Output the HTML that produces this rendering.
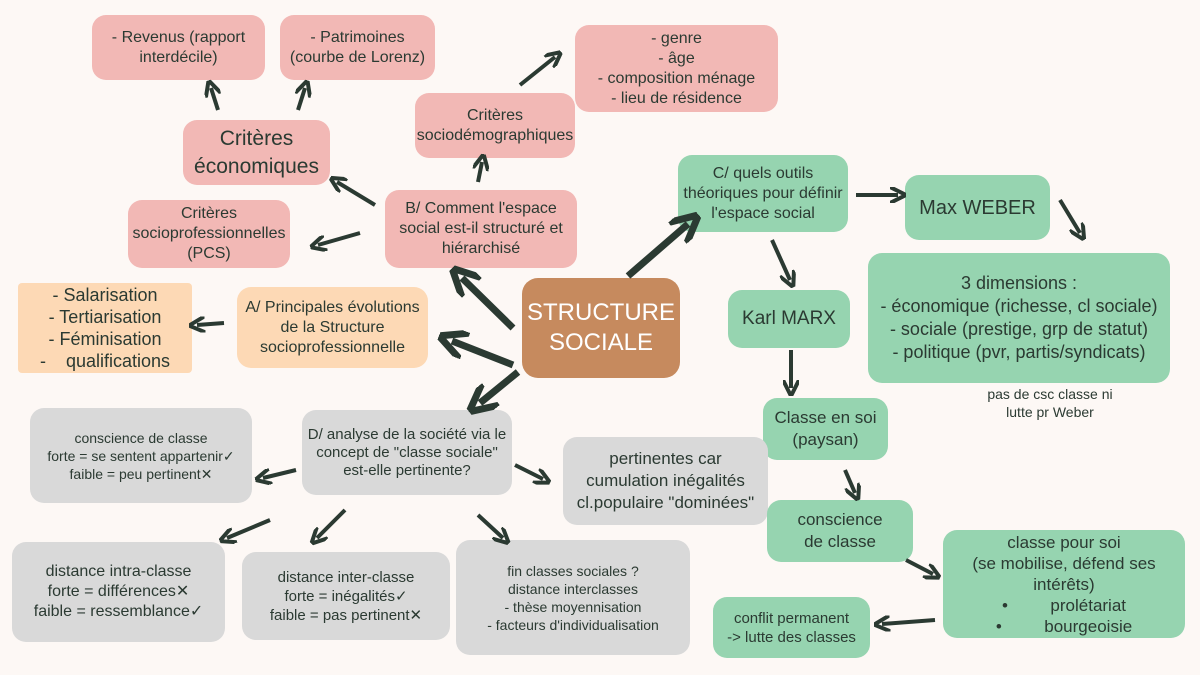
<!DOCTYPE html>
<html><head><meta charset="utf-8"><style>
body{margin:0;width:1200px;height:675px;background:#fdf8f5;position:relative;overflow:hidden;font-family:"Liberation Sans",sans-serif;color:#2b3a32}
.b{position:absolute;border-radius:14px;display:flex;align-items:center;justify-content:center;text-align:center;font-size:16px;line-height:20px;box-sizing:border-box;padding:4px}
.p{background:#f2b8b5}.g{background:#96d4b0}.y{background:#d9d9d9}.o{background:#fdd9b5}
svg{position:absolute;left:0;top:0}
</style></head><body>
<div class="b p" style="left:92px;top:15px;width:173px;height:65px">- Revenus (rapport<br>interdécile)</div>
<div class="b p" style="left:280px;top:15px;width:155px;height:65px">- Patrimoines<br>(courbe de Lorenz)</div>
<div class="b p" style="left:575px;top:25px;width:203px;height:87px">- genre<br>- âge<br>- composition ménage<br>- lieu de résidence</div>
<div class="b p" style="left:415px;top:93px;width:160px;height:65px">Critères<br>sociodémographiques</div>
<div class="b p" style="left:183px;top:120px;width:147px;height:65px;font-size:21px;line-height:28px">Critères<br>économiques</div>
<div class="b p" style="left:385px;top:190px;width:192px;height:78px">B/ Comment l'espace<br>social est-il structuré et<br>hiérarchisé</div>
<div class="b p" style="left:128px;top:200px;width:162px;height:68px">Critères<br>socioprofessionnelles<br>(PCS)</div>
<div class="b g" style="left:678px;top:155px;width:170px;height:77px">C/ quels outils<br>théoriques pour définir<br>l'espace social</div>
<div class="b g" style="left:905px;top:175px;width:145px;height:65px;font-size:20px">Max WEBER</div>
<div class="b g" style="left:868px;top:253px;width:302px;height:130px;font-size:18px;line-height:23px">3 dimensions :<br>- économique (richesse, cl sociale)<br>- sociale (prestige, grp de statut)<br>- politique (pvr, partis/syndicats)</div>
<div class="b o" style="left:18px;top:283px;width:174px;height:90px;font-size:18px;line-height:22px;border-radius:4px">- Salarisation<br>- Tertiarisation<br>- Féminisation<br>- &nbsp;&nbsp;&nbsp;qualifications</div>
<div class="b o" style="left:237px;top:287px;width:191px;height:81px">A/ Principales évolutions<br>de la Structure<br>socioprofessionnelle</div>
<div class="b" style="left:522px;top:278px;width:158px;height:100px;background:#c68a5e;color:#fff;font-size:24px;line-height:30px;border-radius:16px">STRUCTURE<br>SOCIALE</div>
<div class="b g" style="left:728px;top:290px;width:122px;height:58px;font-size:19px">Karl MARX</div>
<div class="b" style="left:960px;top:383px;width:180px;height:40px;font-size:14px;line-height:18px">pas de csc classe ni<br>lutte pr Weber</div>
<div class="b g" style="left:763px;top:398px;width:125px;height:62px;font-size:17px;line-height:22px">Classe en soi<br>(paysan)</div>
<div class="b y" style="left:30px;top:408px;width:222px;height:95px;font-size:14px;line-height:18px">conscience de classe<br>forte = se sentent appartenir✓<br>faible = peu pertinent✕</div>
<div class="b y" style="left:302px;top:410px;width:210px;height:85px;font-size:15px;line-height:18px">D/ analyse de la société via le<br>concept de "classe sociale"<br>est-elle pertinente?</div>
<div class="b y" style="left:563px;top:437px;width:205px;height:88px;font-size:17px;line-height:22px">pertinentes car<br>cumulation inégalités<br>cl.populaire "dominées"</div>
<div class="b g" style="left:767px;top:500px;width:146px;height:62px;font-size:17px;line-height:22px">conscience<br>de classe</div>
<div class="b g" style="left:943px;top:530px;width:242px;height:108px;font-size:17px;line-height:21px">classe pour soi<br>(se mobilise, défend ses<br>intérêts)<br>•&nbsp;&nbsp;&nbsp;&nbsp;&nbsp;&nbsp;&nbsp;&nbsp;&nbsp;prolétariat<br>•&nbsp;&nbsp;&nbsp;&nbsp;&nbsp;&nbsp;&nbsp;&nbsp;&nbsp;bourgeoisie</div>
<div class="b y" style="left:12px;top:542px;width:213px;height:100px;font-size:16px;line-height:20px">distance intra-classe<br>forte = différences✕<br>faible = ressemblance✓</div>
<div class="b y" style="left:242px;top:552px;width:208px;height:88px;font-size:15px;line-height:19px">distance inter-classe<br>forte = inégalités✓<br>faible = pas pertinent✕</div>
<div class="b y" style="left:456px;top:540px;width:234px;height:115px;font-size:14px;line-height:18px">fin classes sociales ?<br>distance interclasses<br>- thèse moyennisation<br>- facteurs d'individualisation</div>
<div class="b g" style="left:713px;top:597px;width:157px;height:61px;font-size:15px;line-height:19px">conflit permanent<br>-&gt; lutte des classes</div>
<svg width="1200" height="675">
<defs><marker id="a" markerWidth="4" markerHeight="4" refX="2" refY="2" orient="auto"><path d="M0,0 L4,2 L0,4" fill="none" stroke="#2b3a32" stroke-width="1"/></marker></defs>
<g stroke="#2b3a32" stroke-width="4" fill="none" marker-end="url(#a)">
<line x1="218" y1="110" x2="211" y2="88"/>
<line x1="298" y1="110" x2="305" y2="88"/>
<line x1="520" y1="85" x2="555" y2="57"/>
<line x1="478" y1="182" x2="482" y2="162"/>
<line x1="375" y1="205" x2="337" y2="182"/>
<line x1="360" y1="233" x2="318" y2="245"/>
<line x1="513" y1="328" x2="462" y2="278" stroke-width="7"/>
<line x1="513" y1="365" x2="452" y2="341" stroke-width="7"/>
<line x1="518" y1="372" x2="480" y2="403" stroke-width="7"/>
<line x1="628" y1="276" x2="688" y2="224" stroke-width="7"/>
<line x1="856" y1="195" x2="898" y2="195"/>
<line x1="1060" y1="200" x2="1080" y2="233"/>
<line x1="772" y1="240" x2="790" y2="280"/>
<line x1="791" y1="350" x2="791" y2="388"/>
<line x1="845" y1="470" x2="855" y2="493"/>
<line x1="906" y1="560" x2="933" y2="574"/>
<line x1="224" y1="323" x2="197" y2="325"/>
<line x1="296" y1="470" x2="263" y2="478"/>
<line x1="515" y1="465" x2="543" y2="479"/>
<line x1="270" y1="520" x2="227" y2="538"/>
<line x1="345" y1="510" x2="317" y2="538"/>
<line x1="478" y1="515" x2="503" y2="538"/>
<line x1="935" y1="620" x2="882" y2="624"/>
</g></svg>
</body></html>
